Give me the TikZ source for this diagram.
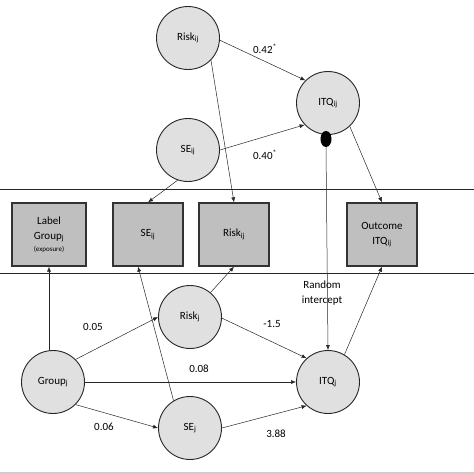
\documentclass[tikz,border=0pt]{standalone}
\usepackage{fontspec}
\setmainfont{Carlito}
\usetikzlibrary{arrows.meta,shapes.geometric}
\begin{document}
\begin{tikzpicture}[x=1pt,y=-1pt,
  circ/.style={circle, draw=black!85, fill=black!12, line width=0.9pt, minimum size=63pt, inner sep=0pt, font=\fontsize{11}{13}\selectfont},
  databox/.style={rectangle, draw=black!80, fill=black!25, line width=1.3pt, minimum width=70pt, minimum height=63pt, inner sep=0pt, align=center, font=\fontsize{11}{15}\selectfont},
  arr/.style={-{Latex[length=5pt,width=4pt]}, black!85, line width=0.5pt},
  lbl/.style={font=\fontsize{11}{13}\selectfont, inner sep=1pt},
  sepline/.style={black!85, line width=0.9pt}
]
\useasboundingbox (0,0) rectangle (474,474);
\fill[black!20] (0,471.5) rectangle (474,474);

% separator lines
\draw[sepline] (0,189) -- (474,189);
\draw[sepline] (0,273) -- (474,273);

% upper (within) level
\node[circ] (riskij) at (188,38) {Risk\textsubscript{ij}};
\node[circ] (itqij) at (328,103) {ITQ\textsubscript{ij}};
\node[circ] (seij) at (188,150) {SE\textsubscript{ij}};
\node[ellipse, fill=black, minimum width=11pt, minimum height=16pt, inner sep=0pt] (dot) at (326,139) {};

% observed boxes
\node[databox, minimum width=74pt] (labelbox) at (49,234.5) {Label\\Group\textsubscript{j}\\[-3pt]{\fontsize{7}{8}\selectfont(exposure)}};
\node[databox] (sebox) at (148,234.5) {SE\textsubscript{ij}};
\node[databox] (riskbox) at (234,234.5) {Risk\textsubscript{ij}};
\node[databox] (outbox) at (382,234.5) {Outcome\\ITQ\textsubscript{ij}};

% lower (between) level
\node[circ] (riskj) at (190,317) {Risk\textsubscript{j}};
\node[circ] (groupj) at (53,382) {Group\textsubscript{j}};
\node[circ] (itqj) at (328,382) {ITQ\textsubscript{j}};
\node[circ] (sej) at (190,428) {SE\textsubscript{j}};

% upper connectors
\draw[arr] (riskij.-4) -- (itqij.135);
\draw[arr] (seij.0) -- (itqij.223);
\draw[arr] (riskij.-44) -- (riskbox.north);
\draw[arr] (seij.-109) -- (sebox.north);
\draw[arr] (itqij.-47) -- (outbox.north);
\draw[arr] (dot.south) -- (itqj.north);

% lower connectors
\draw[arr] (groupj.north -| labelbox.south) -- (labelbox.south);
\draw[arr] (sej.121) -- ([xshift=-10pt]sebox.south);
\draw[arr] (riskj.50) -- (riskbox.south);
\draw[arr] (itqj.59) -- (outbox.south);
\draw[arr] (groupj.45) -- (riskj.180);
\draw[arr] (groupj.0) -- (itqj.180);
\draw[arr] (groupj.-45) -- (sej.180);
\draw[arr] (riskj.-2) -- (itqj.132);
\draw[arr] (sej.0) -- (itqj.228);

% labels
\node[lbl] (l1) at (265,49) {0.42\textsuperscript{*}};
\node[lbl] (l2) at (265,155) {0.40\textsuperscript{*}};
\node[lbl] (l3) at (93,327) {0.05};
\node[lbl] (l4) at (199,369) {0.08};
\node[lbl] (l5) at (272,324) {-1.5};
\node[lbl] (l6) at (104,427) {0.06};
\node[lbl] (l7) at (276,434) {3.88};
\node[lbl, align=center, font=\fontsize{11}{15}\selectfont] (ri) at (322,293) {Random\\intercept};
\end{tikzpicture}
\end{document}
